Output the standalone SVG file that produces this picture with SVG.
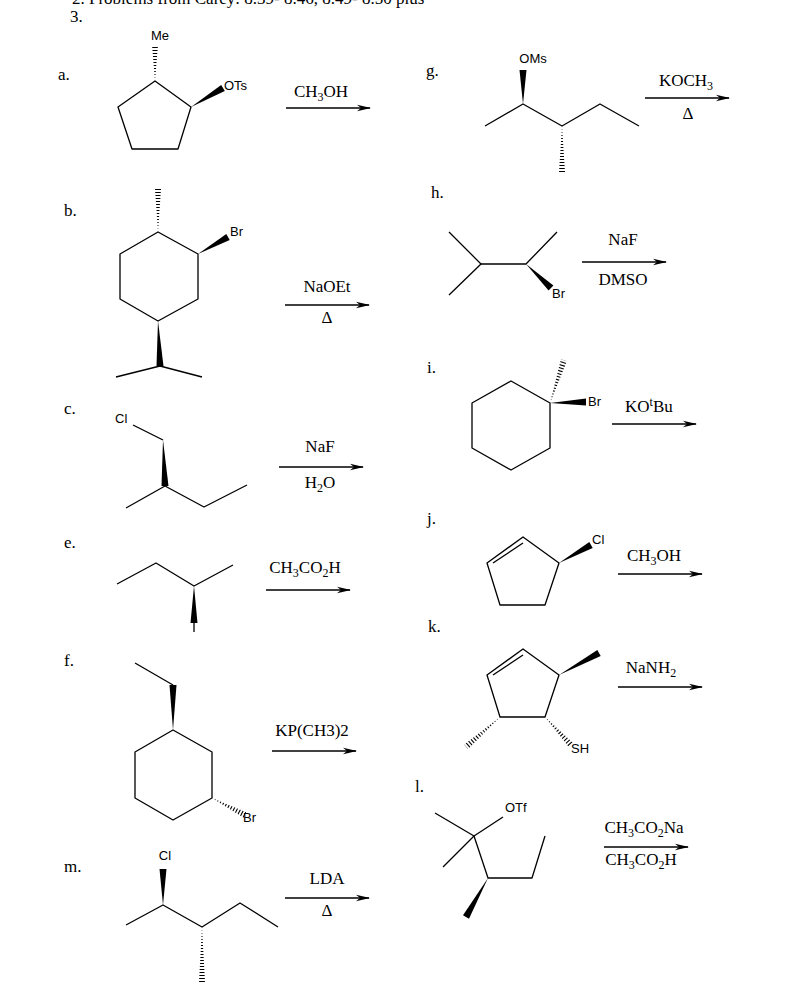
<svg xmlns="http://www.w3.org/2000/svg" width="812" height="1000" viewBox="0 0 812 1000">
<style>
.b{stroke:#000;stroke-width:1.3;fill:none;stroke-linejoin:round}
.w{fill:#000}
.h{stroke:#000;stroke-width:8;stroke-dasharray:1.1 1.9}
.l{font-family:"Liberation Serif",serif;font-size:17px;fill:#000}
.at{font-family:"Liberation Sans",sans-serif;font-size:13px;fill:#000}
.ar{stroke:#000;stroke-width:1.3;marker-end:url(#ah)}
.s{font-size:12px}
</style>
<defs>
<marker id="ah" markerWidth="14" markerHeight="8" refX="13" refY="4" orient="auto" markerUnits="userSpaceOnUse"><path d="M0,0.8 L14,4 L0,7.2 L4,4 z" fill="#000"/></marker>
<clipPath id="ca"><polygon points="155,81 152,45 158,45"/></clipPath>
<clipPath id="cb"><polygon points="158,232 155,189 161,189"/></clipPath>
<clipPath id="cg"><polygon points="562,126 559,172 565,172"/></clipPath>
<clipPath id="cm"><polygon points="202,927 199,982 205,982"/></clipPath>
<clipPath id="ci"><polygon points="550,403 567,361 561,359"/></clipPath>
<clipPath id="ck1"><polygon points="500,717 468,749.3 464,744.7"/></clipPath>
<clipPath id="ck2"><polygon points="545,717 573.2,743 568.8,747"/></clipPath>
<clipPath id="cf"><polygon points="212,798 243.6,817.7 246.4,812.3"/></clipPath>
</defs>
<text class="l" x="72" y="4">2. Problems from Carey: 8.39- 8.46, 8.49- 8.50 plus</text>
<text class="l" x="70" y="22">3.</text>

<g id="a">
<text class="l" x="58" y="80">a.</text>
<polygon class="b" points="155,81 191,107 178,149 132,149 118,107"/>
<line class="h" x1="155" y1="81" x2="155" y2="45" clip-path="url(#ca)"/>
<text class="at" x="160" y="40" text-anchor="middle">Me</text>
<polygon class="w" points="191,107 224.8,91 221.2,85"/>
<text class="at" x="224" y="90">OTs</text>
<line class="ar" x1="286" y1="108" x2="370" y2="108"/>
<text class="l" x="321" y="97" text-anchor="middle">CH<tspan class="s" dy="4">3</tspan><tspan dy="-4">OH</tspan></text>
</g>

<g id="b">
<text class="l" x="64" y="216">b.</text>
<polygon class="b" points="158,232 198,254 198,299 158,321 120,299 120,254"/>
<line class="h" x1="158" y1="232" x2="158" y2="189" clip-path="url(#cb)"/>
<polygon class="w" points="198,254 229.7,240 226.3,234"/>
<text class="at" x="230" y="236">Br</text>
<polygon class="w" points="158,321 163.5,366 156.5,366"/>
<polyline class="b" points="116,377 160,366 202,377"/>
<line class="ar" x1="285" y1="305" x2="369" y2="305"/>
<text class="l" x="327" y="292" text-anchor="middle">NaOEt</text>
<text class="l" x="327" y="323" text-anchor="middle">Δ</text>
</g>

<g id="c">
<text class="l" x="64" y="414">c.</text>
<text class="at" x="115" y="423">Cl</text>
<line class="b" x1="133" y1="425" x2="163" y2="440"/>
<polygon class="w" points="163,440 168.5,486 161.5,486"/>
<polyline class="b" points="126,508 165,486 204,507 247,485"/>
<line class="ar" x1="279" y1="467" x2="363" y2="467"/>
<text class="l" x="320" y="452" text-anchor="middle">NaF</text>
<text class="l" x="320" y="488" text-anchor="middle">H<tspan class="s" dy="4">2</tspan><tspan dy="-4">O</tspan></text>
</g>

<g id="e">
<text class="l" x="64" y="548">e.</text>
<polyline class="b" points="117,584 156,563 194,586 233,565"/>
<polygon class="w" points="194,586 197.5,623 190.5,623"/>
<line class="b" x1="194" y1="620" x2="194" y2="632"/>
<line class="ar" x1="266" y1="590" x2="350" y2="590"/>
<text class="l" x="305" y="573" text-anchor="middle">CH<tspan class="s" dy="4">3</tspan><tspan dy="-4">CO</tspan><tspan class="s" dy="4">2</tspan><tspan dy="-4">H</tspan></text>
</g>

<g id="f">
<text class="l" x="64" y="666">f.</text>
<line class="b" x1="135" y1="663" x2="173" y2="685"/>
<polygon class="w" points="173,730 169.5,685 176.5,685"/>
<polygon class="b" points="173,730 212,752 212,798 173,820 135,798 135,752"/>
<line class="h" x1="212" y1="798" x2="245" y2="815" clip-path="url(#cf)"/>
<text class="at" x="243" y="822">Br</text>
<line class="ar" x1="272" y1="751" x2="356" y2="751"/>
<text class="l" x="312" y="736" text-anchor="middle">KP(CH3)2</text>
</g>

<g id="m">
<text class="l" x="64" y="872">m.</text>
<text class="at" x="165" y="860" text-anchor="middle">Cl</text>
<polygon class="w" points="163,905 159.5,869 166.5,869"/>
<polyline class="b" points="126,925 163,905 202,927 240,903 278,927"/>
<line class="h" x1="202" y1="927" x2="202" y2="982" clip-path="url(#cm)"/>
<line class="ar" x1="285" y1="898" x2="369" y2="898"/>
<text class="l" x="327" y="884" text-anchor="middle">LDA</text>
<text class="l" x="327" y="916" text-anchor="middle">Δ</text>
</g>

<g id="g">
<text class="l" x="426" y="76">g.</text>
<text class="at" x="533" y="63" text-anchor="middle">OMs</text>
<polygon class="w" points="523,104 519.5,70 526.5,70"/>
<polyline class="b" points="485,126 523,104 562,126 600,104 639,126"/>
<line class="h" x1="562" y1="126" x2="562" y2="172" clip-path="url(#cg)"/>
<line class="ar" x1="645" y1="98" x2="729" y2="98"/>
<text class="l" x="686" y="86" text-anchor="middle">KOCH<tspan class="s" dy="4">3</tspan></text>
<text class="l" x="688" y="119" text-anchor="middle">Δ</text>
</g>

<g id="h">
<text class="l" x="431" y="198">h.</text>
<polyline class="b" points="449,232 481,264 449,295"/>
<polyline class="b" points="481,264 526,264 557,232"/>
<polygon class="w" points="526,264 548.6,290.5 553.4,285.5"/>
<text class="at" x="552" y="298">Br</text>
<line class="ar" x1="582" y1="262" x2="666" y2="262"/>
<text class="l" x="623" y="245" text-anchor="middle">NaF</text>
<text class="l" x="623" y="285" text-anchor="middle">DMSO</text>
</g>

<g id="i">
<text class="l" x="427" y="373">i.</text>
<polygon class="b" points="550,403 511,381 472,403 472,448 511,470 550,448"/>
<line class="h" x1="550" y1="403" x2="564" y2="360" clip-path="url(#ci)"/>
<polygon class="w" points="550,403 586,398.5 586,405.5"/>
<text class="at" x="588" y="406">Br</text>
<text class="l" x="625" y="412">KO<tspan class="s" dy="-6">t</tspan><tspan dy="6">Bu</tspan></text>
<line class="ar" x1="612" y1="424" x2="696" y2="424"/>
</g>

<g id="j">
<text class="l" x="427" y="524">j.</text>
<polygon class="b" points="523,537 559,563 545,605 500,605 487,563"/>
<line class="b" x1="493" y1="563" x2="523" y2="543"/>
<polygon class="w" points="559,563 592.7,548 589.3,542"/>
<text class="at" x="592" y="544">Cl</text>
<line class="ar" x1="618" y1="574" x2="702" y2="574"/>
<text class="l" x="654" y="561" text-anchor="middle">CH<tspan class="s" dy="4">3</tspan><tspan dy="-4">OH</tspan></text>
</g>

<g id="k">
<text class="l" x="428" y="632">k.</text>
<polygon class="b" points="523,649 559,675 545,717 500,717 487,675"/>
<line class="b" x1="493" y1="675" x2="523" y2="655"/>
<polygon class="w" points="559,675 600.7,656.1 597.3,649.9"/>
<line class="h" x1="500" y1="717" x2="466" y2="747" clip-path="url(#ck1)"/>
<line class="h" x1="545" y1="717" x2="571" y2="745" clip-path="url(#ck2)"/>
<text class="at" x="571" y="753">SH</text>
<line class="ar" x1="618" y1="687" x2="702" y2="687"/>
<text class="l" x="651" y="673" text-anchor="middle">NaNH<tspan class="s" dy="4">2</tspan></text>
</g>

<g id="l">
<text class="l" x="415" y="792">l.</text>
<text class="at" x="505" y="812">OTf</text>
<line class="b" x1="435" y1="813" x2="474" y2="836"/>
<line class="b" x1="474" y1="836" x2="503" y2="817"/>
<line class="b" x1="474" y1="836" x2="443" y2="867"/>
<polyline class="b" points="474,836 488,878 532,878 545,836"/>
<polygon class="w" points="488,878 469,918.7 463,915.3"/>
<line class="ar" x1="604" y1="847" x2="688" y2="847"/>
<text class="l" x="644" y="833" text-anchor="middle">CH<tspan class="s" dy="4">3</tspan><tspan dy="-4">CO</tspan><tspan class="s" dy="4">2</tspan><tspan dy="-4">Na</tspan></text>
<text class="l" x="641" y="865" text-anchor="middle">CH<tspan class="s" dy="4">3</tspan><tspan dy="-4">CO</tspan><tspan class="s" dy="4">2</tspan><tspan dy="-4">H</tspan></text>
</g>
</svg>
